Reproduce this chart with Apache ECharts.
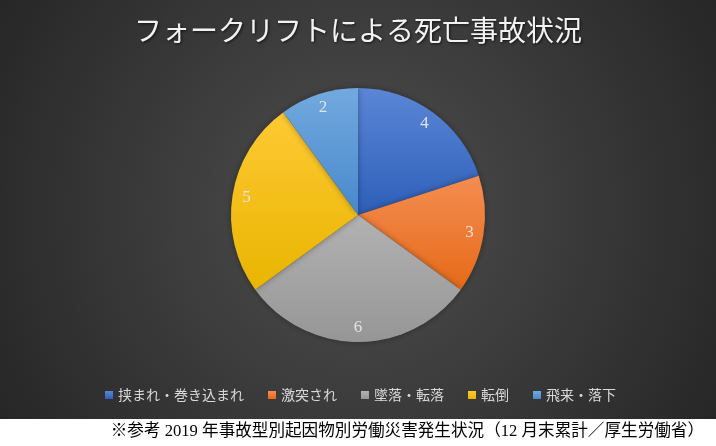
<!DOCTYPE html>
<html>
<head>
<meta charset="utf-8">
<script src="https://cdn.jsdelivr.net/npm/echarts@6/dist/echarts.min.js"></script>
<style>
  html, body { margin: 0; padding: 0; background: #fff; }
  #main { width: 716px; height: 446px; }
</style>
</head>
<body>
<div id="main"></div>
<script>
const chartDom = document.getElementById("main");
const myChart = echarts.init(chartDom);

// fatal forklift accidents by type (2019)
const categories = ["挟まれ・巻き込まれ", "激突され", "墜落・転落", "転倒", "飛来・落下"];
const deaths = [4, 3, 6, 5, 2];

// top / bottom shades for each slice gradient
const topColors = ["#5b86d6", "#f48d52", "#b2b2b2", "#ffc934", "#72a9df"];
const bottomColors = ["#2d5fb9", "#e66a18", "#969696", "#e8b500", "#4889cb"];

const titleText = "フォークリフトによる死亡事故状況";
const noteText = "※参考 2019 年事故型別起因物別労働災害発生状況（12 月末累計／厚生労働省）";

const pieData = categories.map((name, i) => ({
    name: name,
    value: deaths[i],
    itemStyle: {
        color: new echarts.graphic.LinearGradient(0, 0, 0, 1, [
            { offset: 0, color: topColors[i] },
            { offset: 1, color: bottomColors[i] },
        ]),
    },
}));

const option = {
    backgroundColor: "#ffffff",
    animation: false,
    title: {
        text: titleText,
        left: "center",
        top: 11,
        textStyle: {
            color: "#f2f2f2",
            fontSize: 28,
            fontWeight: "normal",
            fontFamily: "Noto Sans CJK JP",
            textShadowColor: "rgba(0,0,0,0.7)",
            textShadowBlur: 3,
            textShadowOffsetX: 1,
            textShadowOffsetY: 1,
        },
    },
    legend: {
        data: categories,
        left: 100,
        top: 383,
        icon: "rect",
        itemWidth: 8,
        itemHeight: 8,
        itemGap: 24,
        textStyle: {
            color: "#d9d9d9",
            fontSize: 14,
            fontFamily: "Noto Sans CJK JP",
        },
    },
    graphic: [
        {
            type: "rect",
            z: -10,
            silent: true,
            shape: { x: 0, y: 0, width: 716, height: 419 },
            style: {
                fill: new echarts.graphic.RadialGradient(0.5, 0.5, 1, [
                    { offset: 0, color: "#4f4f4f" },
                    { offset: 1, color: "#262626" },
                ]),
            },
        },
        {
            type: "text",
            right: 12,
            top: 423,
            silent: true,
            style: {
                text: noteText,
                fill: "#000000",
                font: '16.6px "Liberation Serif", "Noto Sans CJK JP"',
            },
        },
    ],
    series: [
        {
            type: "pie",
            center: [358, 215],
            radius: [0, 127],
            startAngle: 90,
            clockwise: true,
            data: pieData,
            label: { show: false },
            labelLine: { show: false },
            itemStyle: {
                shadowBlur: 6,
                shadowColor: "rgba(0,0,0,0.35)",
            },
        },
        {
            // label ring: places the numbers near the rim
            type: "pie",
            center: [358, 215],
            radius: [93, 127],
            startAngle: 90,
            clockwise: true,
            silent: true,
            data: categories.map((name, i) => ({ name: name, value: deaths[i] })),
            itemStyle: { color: "rgba(0,0,0,0)" },
            label: {
                show: true,
                position: "inside",
                formatter: "{c}",
                color: "#e3e3e3",
                fontSize: 17,
                fontFamily: "Liberation Serif",
            },
            labelLine: { show: false },
        },
    ],
};

myChart.setOption(option);
</script>
</body>
</html>
